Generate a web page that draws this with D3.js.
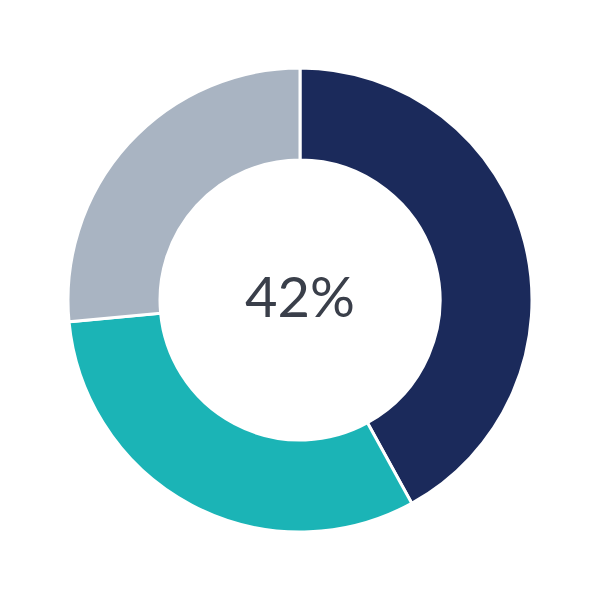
<!DOCTYPE html>
<html>
<head>
<meta charset="utf-8">
<title>Donut</title>
<style>
  body { margin: 0; padding: 0; background: #fff; }
</style>
</head>
<body>
<div id="chart"></div>
<script src="https://d3js.org/d3.v7.min.js"></script>
<script>
// slice data
var labels = ["A", "B", "C"];
var values = [42, 31.5, 26.5];
var colors = ["#1b2a5b", "#1bb4b6", "#a9b4c2"];
var centerLabel = "42%";

var width = 600, height = 600,
    outerR = 232, innerR = 140;

var svg = d3.select("#chart").append("svg")
    .attr("width", width)
    .attr("height", height);

var g = svg.append("g")
    .attr("transform", "translate(" + width / 2 + "," + height / 2 + ")");

var pie = d3.pie().sort(null).value(function(d) { return d; });
var arc = d3.arc().innerRadius(innerR).outerRadius(outerR);

g.selectAll("path")
  .data(pie(values))
  .enter().append("path")
  .attr("d", arc)
  .attr("fill", function(d, i) { return colors[i]; })
  .attr("stroke", "#fff")
  .attr("stroke-width", 3);

g.append("text")
  .attr("text-anchor", "middle")
  .attr("y", 17)
  .attr("font-family", "Lato, sans-serif")
  .attr("font-size", 56)
  .attr("fill", "#3a3f4a")
  .text(centerLabel);
</script>
</body>
</html>
